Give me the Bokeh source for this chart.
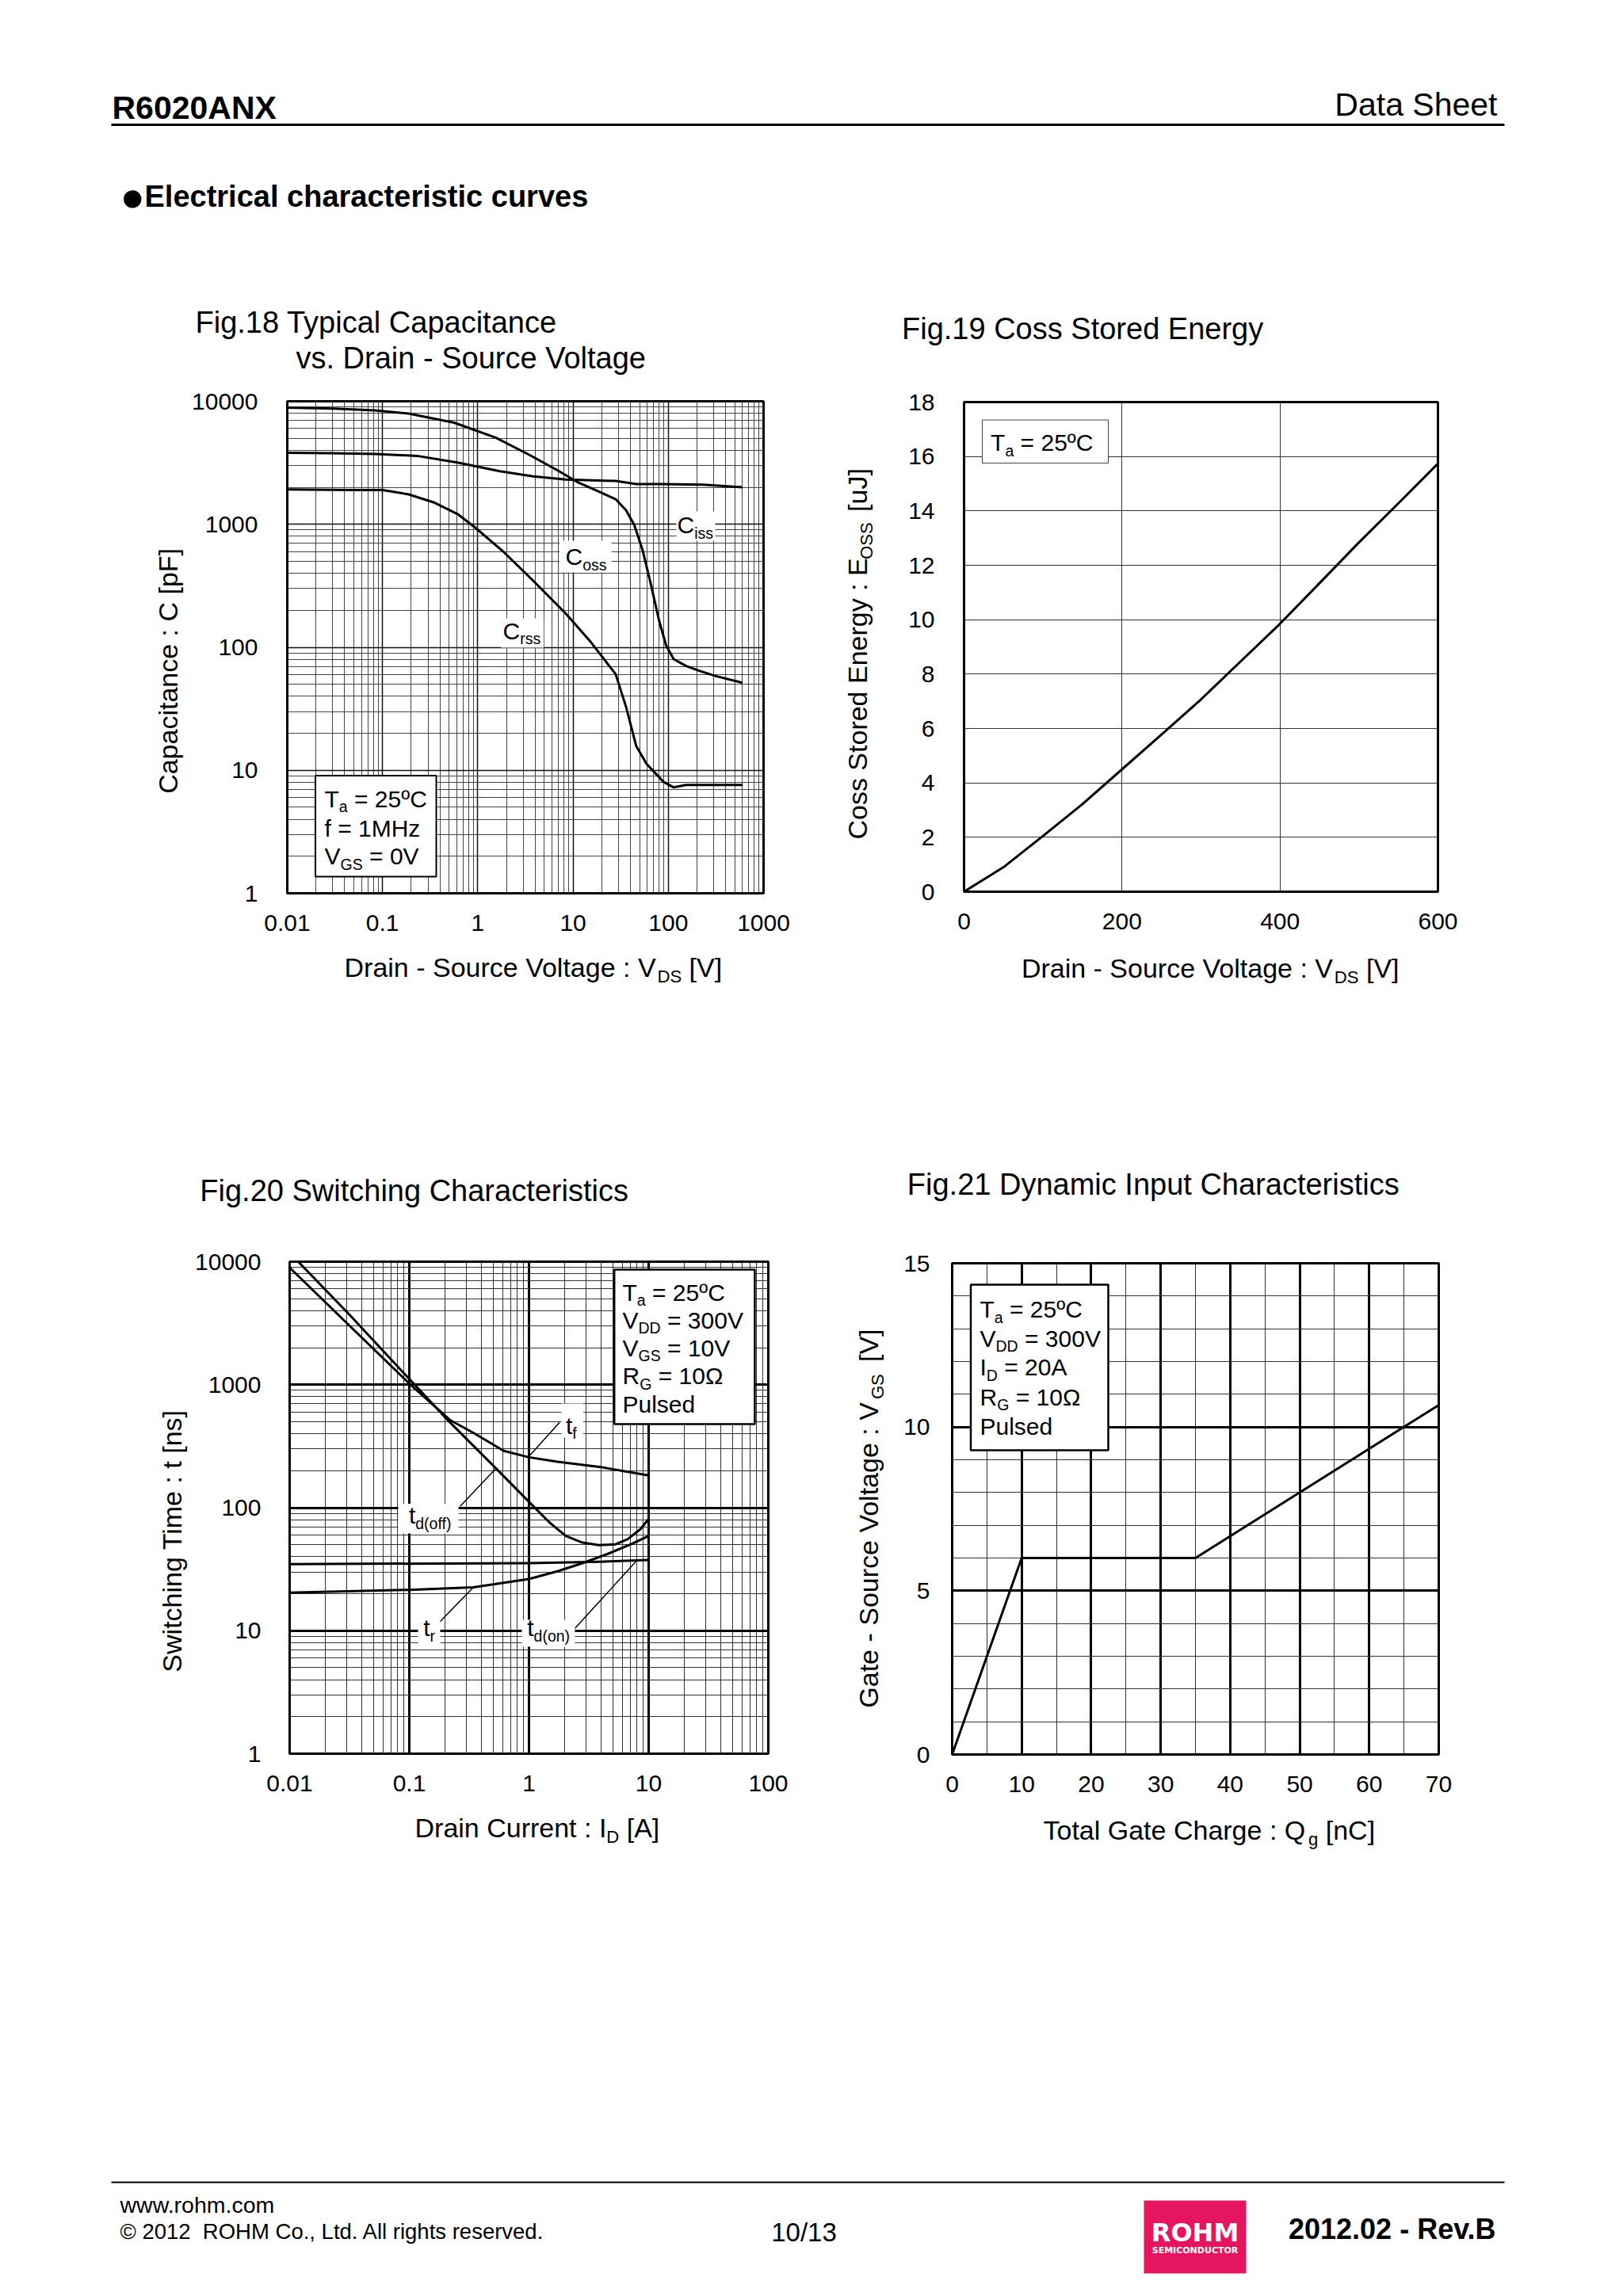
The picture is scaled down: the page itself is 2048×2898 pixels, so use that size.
import math
from bokeh.plotting import figure
from bokeh.layouts import column, row
from bokeh.models import (Range1d, LinearScale, Label, BoxAnnotation, FixedTicker,
                          CustomJSTickFormatter)
from bokeh.embed import file_html
from bokeh.resources import INLINE

FONT = "Liberation Sans"

# ---------------- Fig.18 data (capacitance vs VDS) ----------------
vds_ciss = [0.01, 0.028, 0.084, 0.23, 0.625, 1.7, 3.8, 8.4, 28, 46, 84, 230, 600]
ciss = [3820, 3790, 3730, 3600, 3170, 2700, 2450, 2310, 2250, 2120, 2120, 2100, 2000]
vds_coss = [0.01, 0.031, 0.084, 0.188, 0.565, 1.54, 3.43, 6.9, 11.4, 18.8, 28, 36, 44,
            53.7, 65.6, 80, 95, 114, 154, 208, 310, 600]
coss = [8870, 8730, 8440, 7950, 6700, 5060, 3690, 2740, 2180, 1840, 1600, 1300, 985,
        618, 326, 165, 103, 80, 70.5, 64.7, 58.5, 51.5]
vds_crss = [0.01, 0.046, 0.10, 0.188, 0.343, 0.625, 0.93, 1.88, 3.8, 8.4, 15.4, 28, 36,
            46, 59, 89, 114, 154, 600]
crss = [1920, 1900, 1900, 1750, 1510, 1200, 946, 593, 349, 188, 110, 60.5, 32.8,
        15.8, 11.3, 8.05, 7.26, 7.6, 7.6]
x18_ticks = [0.01, 0.1, 1, 10, 100, 1000]
y18_ticks = [1, 10, 100, 1000, 10000]

# ---------------- Fig.19 data (Eoss vs VDS) ----------------
vds19 = [0, 50, 100, 150, 200, 250, 300, 350, 400, 450, 500, 550, 600, 600]
eoss = [0, 0.9, 2.05, 3.22, 4.5, 5.78, 7.07, 8.46, 9.85, 11.34, 12.84, 14.28, 15.74, 18]
x19_ticks = [0, 200, 400, 600]
y19_ticks = [0, 2, 4, 6, 8, 10, 12, 14, 16, 18]

# ---------------- Fig.20 data (switching times vs ID) ----------------
id_tf = [0.01, 0.032, 0.1, 0.218, 0.352, 0.615, 1.0, 1.73, 3.85, 10]
t_f = [8950, 2985, 1022, 517, 400, 290, 257, 236, 215, 183]
id_tdoff = [0.0118, 0.032, 0.1, 0.218, 0.524, 1.0, 1.48, 2.03, 2.8, 3.85, 5.3, 6.7, 8.55, 10]
t_doff = [10000, 3660, 1112, 495, 211, 111.6, 76, 59, 52, 49.6, 50.4, 55.6, 67, 81]
id_tdon = [0.01, 1.0, 3.85, 10]
t_don = [34.8, 35.4, 36.3, 37.6]
id_tr = [0.01, 0.1, 0.343, 1.0, 1.73, 2.8, 4.52, 7.3, 10]
t_r = [20.4, 21.5, 22.5, 26.3, 30.4, 35.4, 42, 51, 59]
# leader lines: (x0, x1), (y0, y1)
lead_tf = ([1.805, 0.985], [495, 257])
lead_tdoff = ([0.266, 0.524], [102.6, 206])
lead_tr = ([0.178, 0.343], [11.7, 22.5])
lead_tdon = ([2.39, 7.9], [10.3, 36.9])
x20_ticks = [0.01, 0.1, 1, 10, 100]
y20_ticks = [1, 10, 100, 1000, 10000]

# ---------------- Fig.21 data (gate charge) ----------------
qg = [0, 10, 35, 70]
vgs = [0, 6.0, 6.0, 10.67]
x21_ticks = [0, 10, 20, 30, 40, 50, 60, 70]
y21_ticks = [0, 5, 10, 15]
x21_minor = [5, 15, 25, 35, 45, 55, 65]
y21_minor = [1, 2, 3, 4, 6, 7, 8, 9, 11, 12, 13, 14]


def log_minor(decades):
    out = []
    for d in decades[:-1]:
        out += [d * k for k in range(2, 10)]
    return out


# ---------------- text metrics (Arial / Liberation Sans) ----------------
W = dict(zip("ABCDEFGHIJKLMNOPQRSTUVWXYZ",
             [667, 667, 722, 722, 667, 611, 778, 722, 278, 500, 667, 556, 833, 722, 778, 667,
              778, 722, 667, 611, 722, 667, 944, 667, 667, 611]))
W.update(dict(zip("abcdefghijklmnopqrstuvwxyz",
                  [556, 556, 500, 556, 556, 278, 556, 556, 222, 222, 500, 222, 833, 556, 556,
                   556, 556, 333, 500, 278, 556, 500, 722, 500, 500, 500])))
W.update({c: 556 for c in "0123456789"})
W.update({' ': 278, '!': 278, '(': 333, ')': 333, '-': 333, '.': 278, '/': 278, ':': 278,
          '=': 584, '[': 278, ']': 278, 'º': 365, 'Ω': 768, ',': 278})
MID = 0.33   # distance (em) from the alphabetic baseline up to the "middle" anchor


def tw(s, size):
    return sum(W.get(c, 556) for c in s) * size / 1000.0


def rot_shift(ln, fs, is_sub):
    # measured drift of a rotated, centred label along its own length
    return 0.145 * ln - 0.6 * fs + (8.0 if is_sub else 0.0)


def rich(p, x, y, parts, size, angle=0.0, rn="default", sub_scale=0.65, sub_drop=0.22,
         color="black", style="normal", font=FONT):
    """x, y = start of the alphabetic baseline, in page pixels (y downwards)."""
    ca, sa = math.cos(angle), math.sin(angle)
    rotated = abs(angle) > 1e-6
    pos = 0.0
    for text, kind in parts:
        is_sub = kind == "sub"
        if is_sub:
            fs, dy = size * sub_scale, size * sub_drop
        else:
            fs, dy = size, 0.0
        body = text.lstrip(" ")
        pos += tw(text[:len(text) - len(body)], fs)
        ln = tw(body, fs)
        off = dy - MID * fs
        along = pos + ln / 2 - rot_shift(ln, fs, is_sub) if rotated else pos
        lx = x + along * ca + off * sa
        ly = y - along * sa + off * ca
        p.add_layout(Label(x=lx, y=ly, text=body, text_font=font,
                           text_font_size=f"{fs:.1f}px", text_font_style=style,
                           text_color=color, text_align="center" if rotated else "left",
                           text_baseline="middle", angle=angle,
                           x_range_name=rn, y_range_name=rn))
        pos += ln


def txt(p, x, y, text, size, style="normal", align="left", color="black", font=FONT):
    p.add_layout(Label(x=x, y=y - MID * size, text=text, text_font=font,
                       text_font_size=f"{size}px", text_font_style=style,
                       text_align=align, text_color=color, text_baseline="middle"))


def box(p, l, r, t, b, lw=2.0, lc="black", rn="page"):
    p.add_layout(BoxAnnotation(left=l, right=r, top=t, bottom=b, fill_color="white",
                               fill_alpha=1.0, line_color=lc, line_width=lw,
                               line_alpha=1.0 if lc else 0,
                               x_range_name=rn, y_range_name=rn))


def deco(x0, y0, w, h):
    p = figure(width=w, height=h, x_range=Range1d(x0, x0 + w), y_range=Range1d(y0 + h, y0),
               x_axis_location=None, y_axis_location=None, min_border=0,
               outline_line_color=None, toolbar_location=None, tools="",
               output_backend="svg", title=None, background_fill_color="white",
               border_fill_color="white")
    p.grid.visible = False
    return p


def chart(x0, y0, w, h, frame, xr, yr, xtype, ytype):
    fl, fr, ft, fb = frame
    p = figure(width=w, height=h, x_axis_type=xtype, y_axis_type=ytype,
               x_range=Range1d(*xr), y_range=Range1d(*yr),
               min_border_left=fl - x0, min_border_right=x0 + w - fr,
               min_border_top=ft - y0, min_border_bottom=y0 + h - fb,
               output_backend="svg", toolbar_location=None, tools="", title=None,
               background_fill_color="white", border_fill_color="white",
               outline_line_color="black", outline_line_width=3)
    p.extra_x_ranges = {"page": Range1d(fl, fr)}
    p.extra_y_ranges = {"page": Range1d(fb, ft)}
    p.extra_x_scales = {"page": LinearScale()}
    p.extra_y_scales = {"page": LinearScale()}
    return p


def style(p, xt, xm, yt, ym, xstand, ystand, major_w, minor_w, major_c="black", minor_c="#333"):
    for ax, t, m, st in ((p.xaxis, xt, xm, xstand), (p.yaxis, yt, ym, ystand)):
        ax.ticker = FixedTicker(ticks=t, minor_ticks=m)
        ax.formatter = CustomJSTickFormatter(code="return String(tick);")
        ax.axis_line_color = None
        ax.major_tick_line_color = None
        ax.minor_tick_line_color = None
        ax.major_tick_out = 0
        ax.major_tick_in = 0
        ax.minor_tick_out = 0
        ax.minor_tick_in = 0
        ax.major_label_standoff = st
        ax.major_label_text_font = FONT
        ax.major_label_text_font_size = "30px"
        ax.major_label_text_color = "black"
    for g in (p.xgrid, p.ygrid):
        g.grid_line_color = major_c
        g.grid_line_width = major_w
        g.grid_line_alpha = 1.0
        g.minor_grid_line_color = minor_c
        g.minor_grid_line_width = minor_w
        g.minor_grid_line_alpha = 1.0


SUB, N = "sub", "n"
LW = 3
VERT = math.pi / 2
XSTAND = 27

# ================= Fig.18 =================
t18 = deco(0, 300, 1040, 181)
txt(t18, 246, 419, "Fig.18 Typical Capacitance", 38)
txt(t18, 373, 464.5, "vs. Drain - Source Voltage", 38)
l18 = deco(0, 481, 236, 718)
rich(l18, 223, 1005, [("Capacitance : C [pF]", N)], 34, angle=VERT)
b18 = deco(0, 1199, 1040, 201)
rich(b18, 434, 1232, [("Drain - Source Voltage : V", N), ("DS", SUB), (" [V]", N)], 34)

p18 = chart(236, 481, 804, 718, (362, 963, 506, 1127), (0.01, 1000), (1, 10000), "log", "log")
style(p18, x18_ticks, log_minor(x18_ticks), y18_ticks, log_minor(y18_ticks), XSTAND, 37,
      1.5, 1, "#111", "#444")
p18.line(vds_ciss, ciss, line_color="black", line_width=LW, line_join="round")
p18.line(vds_coss, coss, line_color="black", line_width=LW, line_join="round")
p18.line(vds_crss, crss, line_color="black", line_width=LW, line_join="round")
box(p18, 397.5, 550, 978.5, 1106, lw=2)
rich(p18, 409, 1017.5, [("T", N), ("a", SUB), (" = 25ºC", N)], 30, rn="page")
rich(p18, 409, 1054.7, [("f = 1MHz", N)], 30, rn="page")
rich(p18, 409, 1090, [("V", N), ("GS", SUB), (" = 0V", N)], 30, rn="page")
box(p18, 853, 902, 645, 682, lw=0, lc=None)
rich(p18, 854, 672, [("C", N), ("iss", SUB)], 30, rn="page")
box(p18, 705.6, 771, 682, 722, lw=0, lc=None)
rich(p18, 713, 712, [("C", N), ("oss", SUB)], 30, rn="page")
box(p18, 631.7, 685.7, 780, 817, lw=0, lc=None)
rich(p18, 634, 805.5, [("C", N), ("rss", SUB)], 30, rn="page")
col18 = column(t18, row(l18, p18), b18)

# ================= Fig.19 =================
t19 = deco(1040, 300, 1000, 182)
txt(t19, 1137.5, 427.4, "Fig.19 Coss Stored Energy", 38)
l19 = deco(1040, 482, 66, 715)
rich(l19, 1093, 1061.7, [("Coss Stored Energy : E", N), ("OSS", SUB), (" [uJ]", N)], 34,
     angle=VERT)
b19 = deco(1040, 1197, 1000, 203)
rich(b19, 1288.4, 1233, [("Drain - Source Voltage : V", N), ("DS", SUB), (" [V]", N)], 34)

p19 = chart(1106, 482, 934, 715, (1216, 1814, 507, 1125), (0, 600), (0, 18), "linear", "linear")
style(p19, x19_ticks, [], y19_ticks, [], XSTAND, 37, 1, 1, "#333", None)
p19.line(vds19, eoss, line_color="black", line_width=LW, line_join="round")
box(p19, 1239, 1398, 529.6, 584, lw=1, lc="#444")
rich(p19, 1249.6, 568, [("T", N), ("a", SUB), (" = 25ºC", N)], 30, rn="page")
col19 = column(t19, row(l19, p19), b19)

# ================= Fig.20 =================
t20 = deco(0, 1400, 1040, 167)
txt(t20, 251.8, 1514.8, "Fig.20 Switching Characteristics", 38)
l20 = deco(0, 1567, 238, 718)
rich(l20, 228, 2113, [("Switching Time : t [ns]", N)], 34, angle=VERT)
b20 = deco(0, 2285, 1040, 445)
rich(b20, 523, 2318, [("Drain Current : I", N), ("D", SUB), (" [A]", N)], 34)

p20 = chart(238, 1567, 802, 718, (365, 969, 1592, 2213), (0.01, 100), (1, 10000), "log", "log")
style(p20, x20_ticks, log_minor(x20_ticks), y20_ticks, log_minor(y20_ticks), XSTAND, 36,
      3, 1, "black", "#333")
for xs, ys in ((id_tf, t_f), (id_tdoff, t_doff), (id_tdon, t_don), (id_tr, t_r)):
    p20.line(xs, ys, line_color="black", line_width=LW, line_join="round")
for xs, ys in (lead_tf, lead_tdoff, lead_tr, lead_tdon):
    p20.line(xs, ys, line_color="black", line_width=1.5)
box(p20, 774.7, 951.9, 1602, 1797, lw=2.5)
for yy, parts in ((1640.5, [("T", N), ("a", SUB), (" = 25ºC", N)]),
                  (1675.5, [("V", N), ("DD", SUB), (" = 300V", N)]),
                  (1710.5, [("V", N), ("GS", SUB), (" = 10V", N)]),
                  (1746, [("R", N), ("G", SUB), (" = 10Ω", N)]),
                  (1781.7, [("Pulsed", N)])):
    rich(p20, 785, yy, parts, 30, rn="page")
box(p20, 708, 735.4, 1771, 1814, lw=0, lc=None)
rich(p20, 713.4, 1808.7, [("t", N), ("f", SUB)], 30, rn="page")
box(p20, 502, 578, 1897.6, 1935, lw=0, lc=None)
rich(p20, 515.4, 1922.3, [("t", N), ("d(off)", SUB)], 30, rn="page")
box(p20, 527, 555, 2044, 2078, lw=0, lc=None)
rich(p20, 533.7, 2064, [("t", N), ("r", SUB)], 30, rn="page")
box(p20, 658, 725, 2044, 2078, lw=0, lc=None)
rich(p20, 664.7, 2064, [("t", N), ("d(on)", SUB)], 30, rn="page")
col20 = column(t20, row(l20, p20), b20)

# ================= Fig.21 =================
t21 = deco(1040, 1400, 1000, 169)
txt(t21, 1144.3, 1507.3, "Fig.21 Dynamic Input Characteristics", 38)
l21 = deco(1040, 1569, 80, 717)
rich(l21, 1107, 2153, [("Gate - Source Voltage : V", N), ("GS", SUB), (" [V]", N)], 34,
     angle=VERT)
b21 = deco(1040, 2286, 1000, 444)
rich(b21, 1316, 2320.7, [("Total Gate Charge : Q", N), ("g", SUB), (" [nC]", N)], 34)

p21 = chart(1120, 1569, 920, 717, (1201, 1815, 1594, 2214), (0, 70), (0, 15), "linear", "linear")
style(p21, x21_ticks, x21_minor, y21_ticks, y21_minor, XSTAND, 28, 3, 1, "black", "#333")
p21.line(qg, vgs, line_color="black", line_width=LW, line_join="round")
box(p21, 1224.5, 1398, 1621, 1830, lw=2.5)
for yy, parts in ((1662.3, [("T", N), ("a", SUB), (" = 25ºC", N)]),
                  (1698.5, [("V", N), ("DD", SUB), (" = 300V", N)]),
                  (1735.2, [("I", N), ("D", SUB), (" = 20A", N)]),
                  (1772.5, [("R", N), ("G", SUB), (" = 10Ω", N)]),
                  (1809.8, [("Pulsed", N)])):
    rich(p21, 1236, yy, parts, 30, rn="page")
col21 = column(t21, row(l21, p21), b21)

# ================= header / footer =================
hdr = deco(0, 0, 2040, 300)
txt(hdr, 141, 149.5, "R6020ANX", 41, "bold")
txt(hdr, 1889, 145, "Data Sheet", 41, align="right")
hdr.line([140, 1898], [157, 157], line_color="black", line_width=3)
hdr.add_layout(Label(x=151, y=247, text="●", text_font=FONT, text_font_size="52px",
                     text_baseline="middle", text_align="left", text_color="black"))
txt(hdr, 182, 260, "Electrical characteristic curves", 38, "bold")

ftr = deco(0, 2730, 2040, 160)
ftr.line([140, 1898], [2754, 2754], line_color="black", line_width=2)
txt(ftr, 151, 2792, "www.rohm.com", 28.5)
txt(ftr, 151, 2825, "© 2012\u00a0 ROHM Co., Ltd. All rights reserved.", 27.5)
txt(ftr, 1014, 2828, "10/13", 33, align="center")
ftr.quad(left=[1443], right=[1572], top=[2777], bottom=[2869], fill_color="#E5165F",
         line_color=None)
txt(ftr, 1507.5, 2828, "ROHM", 32, "bold", align="center", color="white", font="DejaVu Sans")
txt(ftr, 1507.5, 2844, "SEMICONDUCTOR", 11, "bold", align="center", color="white",
    font="DejaVu Sans")
txt(ftr, 1887, 2825, "2012.02 - Rev.B", 36, "bold", align="right")

page = column(hdr, row(col18, col19), row(col20, col21), ftr)
open("out.html", "w").write(file_html(page, INLINE))
